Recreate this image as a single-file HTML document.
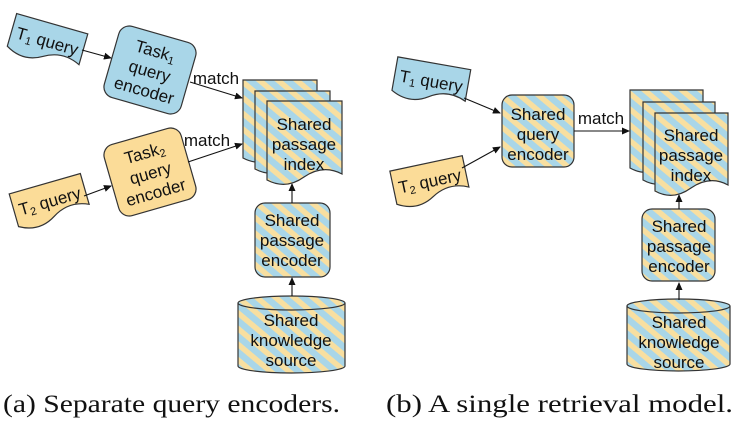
<!DOCTYPE html>
<html><head><meta charset="utf-8"><style>
html,body{margin:0;padding:0;background:#fff;}
svg{display:block;}
text{font-family:"Liberation Sans",Arial,Helvetica,sans-serif;}
text.cap{font-family:"Liberation Serif","Times New Roman",Times,serif;}
</style></head><body>
<svg width="735" height="424" viewBox="0 0 735 424" xmlns="http://www.w3.org/2000/svg">
<defs>
<pattern id="h" width="12" height="12" patternUnits="userSpaceOnUse" patternTransform="rotate(40)">
<rect width="12" height="12" fill="#a9d6e8"/>
<rect width="12" height="5.5" fill="#f8dfa0"/>
</pattern>
<marker id="a" markerWidth="8" markerHeight="8" refX="7" refY="4" orient="auto" markerUnits="userSpaceOnUse">
<path d="M0,0.5 L8,4 L0,7.5 Z" fill="#111"/>
</marker>
</defs>
<g stroke="#333" stroke-width="1.2">
<g transform="translate(47,42) rotate(16)">
<path d="M-37,-19 H37 V13 Q18,4 0,15 Q-18,26 -37,15 Z" fill="#a9d6e8"/>
</g>
<g transform="translate(150,70) rotate(16)">
<rect x="-40" y="-37" width="80" height="74" rx="11" fill="#a9d6e8"/>
</g>
<g transform="translate(150,172) rotate(-16)">
<rect x="-40" y="-37" width="80" height="74" rx="11" fill="#fbdc98"/>
</g>
<g transform="translate(50,202) rotate(-16)">
<path d="M-37,-19 H37 V13 Q18,4 0,15 Q-18,26 -37,15 Z" fill="#fbdc98"/>
</g>
<path d="M243,80 H317 V152 Q298,142 280,155 Q262,168 243,158 Z" fill="url(#h)"/>
<path d="M255,91 H330 V163 Q311,153 292,166 Q274,179 255,169 Z" fill="url(#h)"/>
<path d="M267,101 H342 V174 Q323,164 304,177 Q286,190 267,180 Z" fill="url(#h)"/>
<rect x="255" y="203" width="75" height="74" rx="10" fill="url(#h)"/>
<path d="M238,303 A53.5,7 0 0 1 345,303 V366 A53.5,7 0 0 1 238,366 Z" fill="url(#h)"/>
<path d="M238,303 A53.5,7 0 0 0 345,303" fill="none"/>
<g transform="translate(431,82) rotate(10)">
<path d="M-37,-19 H37 V13 Q18,4 0,15 Q-18,26 -37,15 Z" fill="#a9d6e8"/>
</g>
<g transform="translate(430,182) rotate(-12)">
<path d="M-37,-19 H37 V13 Q18,4 0,15 Q-18,26 -37,15 Z" fill="#fbdc98"/>
</g>
<rect x="502" y="95" width="72" height="72" rx="10" fill="url(#h)"/>
<path d="M630,90 H703 V162 Q685,152 666,165 Q648,178 630,168 Z" fill="url(#h)"/>
<path d="M643,102 H715 V174 Q697,164 679,177 Q661,190 643,180 Z" fill="url(#h)"/>
<path d="M655,113 H728 V185 Q710,175 691,188 Q673,201 655,191 Z" fill="url(#h)"/>
<rect x="642" y="209" width="73" height="72" rx="10" fill="url(#h)"/>
<path d="M627,306 A51.5,7 0 0 1 730,306 V364 A51.5,7 0 0 1 627,364 Z" fill="url(#h)"/>
<path d="M627,306 A51.5,7 0 0 0 730,306" fill="none"/>
</g>
<g stroke="#111" stroke-width="1.1" fill="none" marker-end="url(#a)">
<line x1="82" y1="50" x2="111" y2="58"/>
<line x1="190" y1="82" x2="242" y2="98"/>
<line x1="188" y1="162" x2="242" y2="144"/>
<line x1="84" y1="196" x2="111" y2="186"/>
<line x1="292" y1="203" x2="292" y2="184"/>
<line x1="292" y1="296" x2="292" y2="278"/>
<line x1="464" y1="98" x2="500" y2="113"/>
<line x1="462" y1="168" x2="500" y2="147"/>
<line x1="574" y1="131" x2="629" y2="131"/>
<line x1="679" y1="209" x2="679" y2="195"/>
<line x1="679" y1="300" x2="679" y2="283"/>
</g>
<g font-size="17" fill="#111" text-anchor="middle">
<g transform="translate(47,42) rotate(16)"><text x="0" y="5">T<tspan font-size="11" dy="3">1</tspan><tspan dy="-3"> query</tspan></text></g>
<g transform="translate(150,70) rotate(16)"><text x="0" y="-14">Task<tspan font-size="11" dy="3">1</tspan></text><text x="0" y="7">query</text><text x="0" y="27">encoder</text></g>
<g transform="translate(150,172) rotate(-16)"><text x="0" y="-14">Task<tspan font-size="11" dy="3">2</tspan></text><text x="0" y="7">query</text><text x="0" y="27">encoder</text></g>
<g transform="translate(50,202) rotate(-16)"><text x="0" y="5">T<tspan font-size="11" dy="3">2</tspan><tspan dy="-3"> query</tspan></text></g>
<text x="216" y="84">match</text>
<text x="207" y="146">match</text>
<text x="304" y="130">Shared</text><text x="304" y="150">passage</text><text x="304" y="170">index</text>
<text x="292" y="226">Shared</text><text x="292" y="246">passage</text><text x="292" y="266">encoder</text>
<text x="291" y="326">Shared</text><text x="291" y="346">knowledge</text><text x="291" y="366">source</text>
<g transform="translate(431,82) rotate(10)"><text x="0" y="5">T<tspan font-size="11" dy="3">1</tspan><tspan dy="-3"> query</tspan></text></g>
<g transform="translate(430,182) rotate(-12)"><text x="0" y="5">T<tspan font-size="11" dy="3">2</tspan><tspan dy="-3"> query</tspan></text></g>
<text x="538" y="120">Shared</text><text x="538" y="140">query</text><text x="538" y="160">encoder</text>
<text x="601" y="124">match</text>
<text x="691" y="141">Shared</text><text x="691" y="161">passage</text><text x="691" y="181">index</text>
<text x="679" y="232">Shared</text><text x="679" y="252">passage</text><text x="679" y="272">encoder</text>
<text x="679" y="328">Shared</text><text x="679" y="348">knowledge</text><text x="679" y="368">source</text>
</g>
<g font-size="25" fill="#111">
<text class="cap" x="3" y="412" textLength="337" lengthAdjust="spacingAndGlyphs">(a) Separate query encoders.</text>
<text class="cap" x="386" y="412" textLength="347" lengthAdjust="spacingAndGlyphs">(b) A single retrieval model.</text>
</g>
</svg>
</body></html>
